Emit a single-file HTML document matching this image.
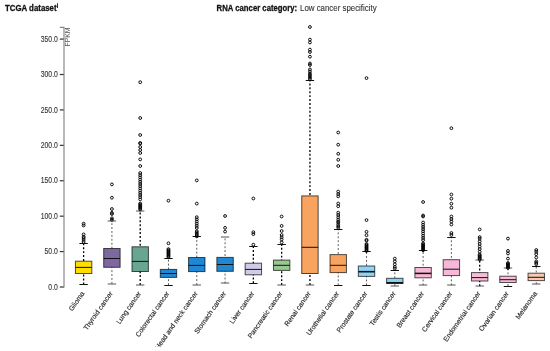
<!DOCTYPE html>
<html><head><meta charset="utf-8"><title>TCGA dataset</title>
<style>
html,body{margin:0;padding:0;background:#fff;width:550px;height:351px;overflow:hidden}
svg{position:absolute;left:0;top:0;display:block;filter:blur(0.25px)}
</style></head>
<body>
<svg width="550" height="351" viewBox="0 0 550 351">
<style>
.w{stroke:#000;stroke-width:1.3;stroke-dasharray:1.956,1.956;fill:none}
.wl{stroke:#333;stroke-width:0.8;stroke-dasharray:1.956,1.956;fill:none}
.c{stroke:#111;stroke-width:1.0}
.cl{stroke:#555;stroke-width:1.0}
.b{stroke:#000;stroke-opacity:0.68;stroke-width:1.0}
.m{stroke:#111}
.o{fill:none;stroke:#000;stroke-width:0.95}
.t{stroke:#333;stroke-width:1.2}
.dom{fill:none;stroke:#858585;stroke-width:1.15}
.tl{font:6.8px "Liberation Sans",Arial,sans-serif;fill:#333;stroke:#333;stroke-width:0.1;text-anchor:end}
.yl{font:6.8px "Liberation Sans",Arial,sans-serif;fill:#555;text-anchor:end;dominant-baseline:hanging}
.hb{font:bold 7.8px "Liberation Sans",Arial,sans-serif;fill:#111;stroke:#111;stroke-width:0.25}
.hr{font:7.8px "Liberation Sans",Arial,sans-serif;fill:#333;stroke:#333;stroke-width:0.1}
.hs{font:bold 6.5px "Liberation Sans",Arial,sans-serif;fill:#000}
.xl{font:6.9px "Liberation Sans",Arial,sans-serif;fill:#2a2a2a;stroke:#2a2a2a;stroke-width:0.15;text-anchor:end}
</style>
<text class="hb" transform="translate(5.0,10.9) scale(1,1.12)" textLength="51.6" lengthAdjust="spacingAndGlyphs">TCGA dataset</text><text class="hs" x="56.6" y="8.2">i</text><text class="hb" transform="translate(216.6,10.9) scale(1,1.12)" textLength="80.6" lengthAdjust="spacingAndGlyphs">RNA cancer category:</text><text class="hr" transform="translate(300.0,10.9) scale(1,1.12)" textLength="76.6" lengthAdjust="spacingAndGlyphs">Low cancer specificity</text>
<line class="t" x1="59.80" y1="287.00" x2="64.00" y2="287.00"/><text class="tl" transform="translate(57.80,289.60) scale(1,1.2)">0.0</text><line class="t" x1="59.80" y1="251.59" x2="64.00" y2="251.59"/><text class="tl" transform="translate(57.80,254.19) scale(1,1.2)">50.0</text><line class="t" x1="59.80" y1="216.17" x2="64.00" y2="216.17"/><text class="tl" transform="translate(57.80,218.77) scale(1,1.2)">100.0</text><line class="t" x1="59.80" y1="180.75" x2="64.00" y2="180.75"/><text class="tl" transform="translate(57.80,183.35) scale(1,1.2)">150.0</text><line class="t" x1="59.80" y1="145.34" x2="64.00" y2="145.34"/><text class="tl" transform="translate(57.80,147.94) scale(1,1.2)">200.0</text><line class="t" x1="59.80" y1="109.92" x2="64.00" y2="109.92"/><text class="tl" transform="translate(57.80,112.52) scale(1,1.2)">250.0</text><line class="t" x1="59.80" y1="74.51" x2="64.00" y2="74.51"/><text class="tl" transform="translate(57.80,77.11) scale(1,1.2)">300.0</text><line class="t" x1="59.80" y1="39.09" x2="64.00" y2="39.09"/><text class="tl" transform="translate(57.80,41.70) scale(1,1.2)">350.0</text><path class="dom" d="M59.80,27.3H64.00V287.0H59.80"/><text class="yl" transform="translate(65.00,27.4) rotate(-90)" textLength="19.2" lengthAdjust="spacingAndGlyphs">FPKM</text>
<g><line class="w" x1="83.62" y1="284.40" x2="83.62" y2="243.40"/><line class="c" x1="79.42" y1="243.50" x2="87.82" y2="243.50"/><line class="c" x1="79.42" y1="284.50" x2="87.82" y2="284.50"/><rect class="b" x="75.42" y="261.20" width="16.40" height="12.30" fill="#FFDD00"/><line class="m" x1="75.42" y1="267.40" x2="91.82" y2="267.40" stroke-width="1.0"/><circle class="o" cx="83.62" cy="223.70" r="1.4"/><circle class="o" cx="83.62" cy="225.50" r="1.4"/><circle class="o" cx="83.62" cy="234.40" r="1.4"/><circle class="o" cx="83.62" cy="236.70" r="1.4"/><circle class="o" cx="83.62" cy="238.00" r="1.4"/><circle class="o" cx="83.62" cy="239.90" r="1.4"/><circle class="o" cx="83.62" cy="241.90" r="1.4"/></g><g><line class="wl" x1="111.91" y1="283.80" x2="111.91" y2="220.90"/><line class="cl" x1="107.71" y1="221.00" x2="116.11" y2="221.00"/><line class="cl" x1="107.71" y1="284.00" x2="116.11" y2="284.00"/><rect class="b" x="103.71" y="248.50" width="16.40" height="18.80" fill="#7D69A0"/><line class="m" x1="103.71" y1="258.50" x2="120.11" y2="258.50" stroke-width="1.0"/><circle class="o" cx="111.91" cy="184.40" r="1.4"/><circle class="o" cx="111.91" cy="197.70" r="1.4"/><circle class="o" cx="111.91" cy="209.00" r="1.4"/><circle class="o" cx="111.91" cy="212.80" r="1.4"/><circle class="o" cx="111.91" cy="214.00" r="1.4"/><circle class="o" cx="111.91" cy="218.30" r="1.4"/><circle class="o" cx="111.91" cy="219.80" r="1.4"/></g><g><line class="w" x1="140.20" y1="284.90" x2="140.20" y2="210.70"/><line class="cl" x1="136.00" y1="211.00" x2="144.40" y2="211.00"/><line class="cl" x1="136.00" y1="285.00" x2="144.40" y2="285.00"/><rect class="b" x="132.00" y="246.80" width="16.40" height="24.70" fill="#68A692"/><line class="m" x1="132.00" y1="261.40" x2="148.40" y2="261.40" stroke-width="1.0"/><circle class="o" cx="140.20" cy="82.20" r="1.4"/><circle class="o" cx="140.20" cy="118.00" r="1.4"/><circle class="o" cx="140.20" cy="135.00" r="1.4"/><circle class="o" cx="140.20" cy="143.00" r="1.4"/><circle class="o" cx="140.20" cy="143.60" r="1.4"/><circle class="o" cx="140.20" cy="147.00" r="1.4"/><circle class="o" cx="140.20" cy="150.00" r="1.4"/><circle class="o" cx="140.20" cy="153.00" r="1.4"/><circle class="o" cx="140.20" cy="159.40" r="1.4"/><circle class="o" cx="140.20" cy="166.00" r="1.4"/><circle class="o" cx="140.20" cy="173.00" r="1.4"/><circle class="o" cx="140.20" cy="175.20" r="1.4"/><circle class="o" cx="140.20" cy="177.40" r="1.4"/><circle class="o" cx="140.20" cy="179.60" r="1.4"/><circle class="o" cx="140.20" cy="181.80" r="1.4"/><circle class="o" cx="140.20" cy="184.00" r="1.4"/><circle class="o" cx="140.20" cy="186.20" r="1.4"/><circle class="o" cx="140.20" cy="188.40" r="1.4"/><circle class="o" cx="140.20" cy="190.60" r="1.4"/><circle class="o" cx="140.20" cy="192.80" r="1.4"/><circle class="o" cx="140.20" cy="195.00" r="1.4"/><circle class="o" cx="140.20" cy="197.20" r="1.4"/><circle class="o" cx="140.20" cy="199.40" r="1.4"/><circle class="o" cx="140.20" cy="203.50" r="1.4"/><circle class="o" cx="140.20" cy="204.50" r="1.4"/><circle class="o" cx="140.20" cy="205.50" r="1.4"/><circle class="o" cx="140.20" cy="206.50" r="1.4"/><circle class="o" cx="140.20" cy="207.50" r="1.4"/><circle class="o" cx="140.20" cy="208.50" r="1.4"/><circle class="o" cx="140.20" cy="209.50" r="1.4"/></g><g><line class="wl" x1="168.49" y1="285.10" x2="168.49" y2="258.10"/><line class="c" x1="164.29" y1="258.50" x2="172.69" y2="258.50"/><line class="c" x1="164.29" y1="285.50" x2="172.69" y2="285.50"/><rect class="b" x="160.29" y="269.40" width="16.40" height="8.00" fill="#1E87D2"/><line class="m" x1="160.29" y1="273.50" x2="176.69" y2="273.50" stroke-width="1.0"/><circle class="o" cx="168.49" cy="200.70" r="1.4"/><circle class="o" cx="168.49" cy="243.30" r="1.4"/><circle class="o" cx="168.49" cy="249.10" r="1.4"/><circle class="o" cx="168.49" cy="250.10" r="1.4"/><circle class="o" cx="168.49" cy="251.10" r="1.4"/><circle class="o" cx="168.49" cy="252.10" r="1.4"/><circle class="o" cx="168.49" cy="253.10" r="1.4"/><circle class="o" cx="168.49" cy="254.10" r="1.4"/><circle class="o" cx="168.49" cy="255.10" r="1.4"/><circle class="o" cx="168.49" cy="256.10" r="1.4"/><circle class="o" cx="168.49" cy="257.10" r="1.4"/></g><g><line class="wl" x1="196.78" y1="284.90" x2="196.78" y2="236.50"/><line class="c" x1="192.58" y1="236.50" x2="200.98" y2="236.50"/><line class="cl" x1="192.58" y1="285.00" x2="200.98" y2="285.00"/><rect class="b" x="188.58" y="257.50" width="16.40" height="14.10" fill="#1E88D4"/><line class="m" x1="188.58" y1="265.40" x2="204.98" y2="265.40" stroke-width="1.0"/><circle class="o" cx="196.78" cy="180.40" r="1.4"/><circle class="o" cx="196.78" cy="203.60" r="1.4"/><circle class="o" cx="196.78" cy="217.20" r="1.4"/><circle class="o" cx="196.78" cy="219.35" r="1.4"/><circle class="o" cx="196.78" cy="221.50" r="1.4"/><circle class="o" cx="196.78" cy="223.65" r="1.4"/><circle class="o" cx="196.78" cy="225.80" r="1.4"/><circle class="o" cx="196.78" cy="227.95" r="1.4"/><circle class="o" cx="196.78" cy="231.20" r="1.4"/><circle class="o" cx="196.78" cy="232.50" r="1.4"/><circle class="o" cx="196.78" cy="233.80" r="1.4"/><circle class="o" cx="196.78" cy="235.10" r="1.4"/><circle class="o" cx="196.78" cy="236.40" r="1.4"/></g><g><line class="wl" x1="225.07" y1="283.40" x2="225.07" y2="237.00"/><line class="cl" x1="220.87" y1="237.00" x2="229.27" y2="237.00"/><line class="cl" x1="220.87" y1="283.00" x2="229.27" y2="283.00"/><rect class="b" x="216.87" y="257.40" width="16.40" height="13.90" fill="#1E88D4"/><line class="m" x1="216.87" y1="264.50" x2="233.27" y2="264.50" stroke-width="1.0"/><circle class="o" cx="225.07" cy="216.00" r="1.4"/><circle class="o" cx="225.07" cy="227.80" r="1.4"/><circle class="o" cx="225.07" cy="231.60" r="1.4"/></g><g><line class="w" x1="253.36" y1="283.30" x2="253.36" y2="246.00"/><line class="c" x1="249.16" y1="246.50" x2="257.56" y2="246.50"/><line class="c" x1="249.16" y1="283.50" x2="257.56" y2="283.50"/><rect class="b" x="245.16" y="263.20" width="16.40" height="11.60" fill="#CFCBE8"/><line class="m" x1="245.16" y1="269.40" x2="261.56" y2="269.40" stroke-width="1.0"/><circle class="o" cx="253.36" cy="198.50" r="1.4"/><circle class="o" cx="253.36" cy="232.20" r="1.4"/><circle class="o" cx="253.36" cy="234.10" r="1.4"/><circle class="o" cx="253.36" cy="244.70" r="1.4"/></g><g><line class="w" x1="281.65" y1="285.00" x2="281.65" y2="244.10"/><line class="c" x1="277.45" y1="244.50" x2="285.85" y2="244.50"/><line class="cl" x1="277.45" y1="285.00" x2="285.85" y2="285.00"/><rect class="b" x="273.45" y="260.10" width="16.40" height="10.30" fill="#98C890"/><line class="m" x1="273.45" y1="265.30" x2="289.85" y2="265.30" stroke-width="1.0"/><circle class="o" cx="281.65" cy="216.50" r="1.4"/><circle class="o" cx="281.65" cy="225.90" r="1.4"/><circle class="o" cx="281.65" cy="231.00" r="1.4"/><circle class="o" cx="281.65" cy="235.00" r="1.4"/><circle class="o" cx="281.65" cy="237.30" r="1.4"/><circle class="o" cx="281.65" cy="239.40" r="1.4"/><circle class="o" cx="281.65" cy="242.40" r="1.4"/></g><g><line class="w" x1="309.94" y1="284.90" x2="309.94" y2="80.60"/><line class="c" x1="305.74" y1="80.50" x2="314.14" y2="80.50"/><line class="cl" x1="305.74" y1="285.00" x2="314.14" y2="285.00"/><rect class="b" x="301.74" y="195.90" width="16.40" height="77.60" fill="#F8A460"/><line class="m" x1="301.74" y1="247.30" x2="318.14" y2="247.30" stroke-width="1.0"/><circle class="o" cx="309.94" cy="27.00" r="1.4"/><circle class="o" cx="309.94" cy="39.60" r="1.4"/><circle class="o" cx="309.94" cy="42.50" r="1.4"/><circle class="o" cx="309.94" cy="49.60" r="1.4"/><circle class="o" cx="309.94" cy="52.00" r="1.4"/><circle class="o" cx="309.94" cy="56.70" r="1.4"/><circle class="o" cx="309.94" cy="63.50" r="1.4"/><circle class="o" cx="309.94" cy="65.00" r="1.4"/><circle class="o" cx="309.94" cy="69.40" r="1.4"/><circle class="o" cx="309.94" cy="71.40" r="1.4"/><circle class="o" cx="309.94" cy="73.40" r="1.4"/><circle class="o" cx="309.94" cy="74.85" r="1.4"/><circle class="o" cx="309.94" cy="76.30" r="1.4"/><circle class="o" cx="309.94" cy="77.75" r="1.4"/><circle class="o" cx="309.94" cy="79.20" r="1.4"/></g><g><line class="wl" x1="338.23" y1="285.20" x2="338.23" y2="229.40"/><line class="c" x1="334.03" y1="229.50" x2="342.43" y2="229.50"/><line class="c" x1="334.03" y1="285.50" x2="342.43" y2="285.50"/><rect class="b" x="330.03" y="254.60" width="16.40" height="18.00" fill="#F8A460"/><line class="m" x1="330.03" y1="265.30" x2="346.43" y2="265.30" stroke-width="1.0"/><circle class="o" cx="338.23" cy="132.50" r="1.4"/><circle class="o" cx="338.23" cy="144.70" r="1.4"/><circle class="o" cx="338.23" cy="153.80" r="1.4"/><circle class="o" cx="338.23" cy="159.80" r="1.4"/><circle class="o" cx="338.23" cy="166.00" r="1.4"/><circle class="o" cx="338.23" cy="191.60" r="1.4"/><circle class="o" cx="338.23" cy="194.10" r="1.4"/><circle class="o" cx="338.23" cy="196.30" r="1.4"/><circle class="o" cx="338.23" cy="203.50" r="1.4"/><circle class="o" cx="338.23" cy="206.20" r="1.4"/><circle class="o" cx="338.23" cy="212.70" r="1.4"/><circle class="o" cx="338.23" cy="215.00" r="1.4"/><circle class="o" cx="338.23" cy="217.30" r="1.4"/><circle class="o" cx="338.23" cy="219.60" r="1.4"/><circle class="o" cx="338.23" cy="221.50" r="1.4"/><circle class="o" cx="338.23" cy="222.70" r="1.4"/><circle class="o" cx="338.23" cy="224.60" r="1.4"/><circle class="o" cx="338.23" cy="226.20" r="1.4"/><circle class="o" cx="338.23" cy="227.70" r="1.4"/></g><g><line class="wl" x1="366.52" y1="285.30" x2="366.52" y2="251.10"/><line class="c" x1="362.32" y1="251.50" x2="370.72" y2="251.50"/><line class="c" x1="362.32" y1="285.50" x2="370.72" y2="285.50"/><rect class="b" x="358.32" y="266.00" width="16.40" height="10.40" fill="#8FD4F4"/><line class="m" x1="358.32" y1="271.70" x2="374.72" y2="271.70" stroke-width="1.6"/><circle class="o" cx="366.52" cy="78.10" r="1.4"/><circle class="o" cx="366.52" cy="220.10" r="1.4"/><circle class="o" cx="366.52" cy="231.80" r="1.4"/><circle class="o" cx="366.52" cy="235.20" r="1.4"/><circle class="o" cx="366.52" cy="239.80" r="1.4"/><circle class="o" cx="366.52" cy="240.60" r="1.4"/><circle class="o" cx="366.52" cy="244.00" r="1.4"/><circle class="o" cx="366.52" cy="245.00" r="1.4"/><circle class="o" cx="366.52" cy="246.00" r="1.4"/><circle class="o" cx="366.52" cy="247.00" r="1.4"/><circle class="o" cx="366.52" cy="248.00" r="1.4"/><circle class="o" cx="366.52" cy="249.00" r="1.4"/><circle class="o" cx="366.52" cy="250.00" r="1.4"/><circle class="o" cx="366.52" cy="251.00" r="1.4"/></g><g><line class="wl" x1="394.81" y1="286.10" x2="394.81" y2="270.40"/><line class="c" x1="390.61" y1="270.50" x2="399.01" y2="270.50"/><line class="cl" x1="390.61" y1="286.00" x2="399.01" y2="286.00"/><rect class="b" x="386.61" y="278.30" width="16.40" height="5.20" fill="#8AD0F0"/><line class="m" x1="386.61" y1="282.80" x2="403.01" y2="282.80" stroke-width="1.6"/><circle class="o" cx="394.81" cy="258.60" r="1.4"/><circle class="o" cx="394.81" cy="261.40" r="1.4"/><circle class="o" cx="394.81" cy="264.30" r="1.4"/><circle class="o" cx="394.81" cy="266.90" r="1.4"/><circle class="o" cx="394.81" cy="268.60" r="1.4"/></g><g><line class="wl" x1="423.10" y1="285.30" x2="423.10" y2="250.70"/><line class="c" x1="418.90" y1="250.50" x2="427.30" y2="250.50"/><line class="cl" x1="418.90" y1="285.00" x2="427.30" y2="285.00"/><rect class="b" x="414.90" y="267.50" width="16.40" height="10.30" fill="#F8B8D4"/><line class="m" x1="414.90" y1="273.40" x2="431.30" y2="273.40" stroke-width="1.5"/><circle class="o" cx="423.10" cy="202.00" r="1.4"/><circle class="o" cx="423.10" cy="215.50" r="1.4"/><circle class="o" cx="423.10" cy="216.50" r="1.4"/><circle class="o" cx="423.10" cy="222.50" r="1.4"/><circle class="o" cx="423.10" cy="224.70" r="1.4"/><circle class="o" cx="423.10" cy="226.90" r="1.4"/><circle class="o" cx="423.10" cy="229.10" r="1.4"/><circle class="o" cx="423.10" cy="231.30" r="1.4"/><circle class="o" cx="423.10" cy="233.50" r="1.4"/><circle class="o" cx="423.10" cy="235.70" r="1.4"/><circle class="o" cx="423.10" cy="237.90" r="1.4"/><circle class="o" cx="423.10" cy="240.10" r="1.4"/><circle class="o" cx="423.10" cy="243.30" r="1.4"/><circle class="o" cx="423.10" cy="244.30" r="1.4"/><circle class="o" cx="423.10" cy="245.30" r="1.4"/><circle class="o" cx="423.10" cy="246.30" r="1.4"/><circle class="o" cx="423.10" cy="247.30" r="1.4"/><circle class="o" cx="423.10" cy="248.30" r="1.4"/><circle class="o" cx="423.10" cy="249.30" r="1.4"/><circle class="o" cx="423.10" cy="250.30" r="1.4"/></g><g><line class="wl" x1="451.39" y1="285.30" x2="451.39" y2="237.10"/><line class="c" x1="447.19" y1="237.50" x2="455.59" y2="237.50"/><line class="cl" x1="447.19" y1="285.00" x2="455.59" y2="285.00"/><rect class="b" x="443.19" y="259.70" width="16.40" height="15.90" fill="#F6B8D8"/><line class="m" x1="443.19" y1="269.20" x2="459.59" y2="269.20" stroke-width="1.0"/><circle class="o" cx="451.39" cy="128.20" r="1.4"/><circle class="o" cx="451.39" cy="194.50" r="1.4"/><circle class="o" cx="451.39" cy="198.70" r="1.4"/><circle class="o" cx="451.39" cy="203.70" r="1.4"/><circle class="o" cx="451.39" cy="207.70" r="1.4"/><circle class="o" cx="451.39" cy="216.50" r="1.4"/><circle class="o" cx="451.39" cy="219.00" r="1.4"/><circle class="o" cx="451.39" cy="221.50" r="1.4"/><circle class="o" cx="451.39" cy="224.50" r="1.4"/><circle class="o" cx="451.39" cy="233.00" r="1.4"/><circle class="o" cx="451.39" cy="235.00" r="1.4"/></g><g><line class="w" x1="479.68" y1="286.20" x2="479.68" y2="260.00"/><line class="cl" x1="475.48" y1="260.00" x2="483.88" y2="260.00"/><line class="cl" x1="475.48" y1="286.00" x2="483.88" y2="286.00"/><rect class="b" x="471.48" y="272.60" width="16.40" height="8.40" fill="#F8BCD8"/><line class="m" x1="471.48" y1="277.60" x2="487.88" y2="277.60" stroke-width="1.0"/><circle class="o" cx="479.68" cy="229.40" r="1.4"/><circle class="o" cx="479.68" cy="237.10" r="1.4"/><circle class="o" cx="479.68" cy="238.70" r="1.4"/><circle class="o" cx="479.68" cy="241.30" r="1.4"/><circle class="o" cx="479.68" cy="243.90" r="1.4"/><circle class="o" cx="479.68" cy="246.50" r="1.4"/><circle class="o" cx="479.68" cy="249.10" r="1.4"/><circle class="o" cx="479.68" cy="251.70" r="1.4"/><circle class="o" cx="479.68" cy="254.50" r="1.4"/><circle class="o" cx="479.68" cy="255.50" r="1.4"/><circle class="o" cx="479.68" cy="256.50" r="1.4"/><circle class="o" cx="479.68" cy="257.50" r="1.4"/><circle class="o" cx="479.68" cy="258.50" r="1.4"/><circle class="o" cx="479.68" cy="259.50" r="1.4"/></g><g><line class="wl" x1="507.97" y1="286.00" x2="507.97" y2="267.90"/><line class="cl" x1="503.77" y1="268.00" x2="512.17" y2="268.00"/><line class="c" x1="503.77" y1="286.50" x2="512.17" y2="286.50"/><rect class="b" x="499.77" y="276.20" width="16.40" height="6.30" fill="#F8BCD8"/><line class="m" x1="499.77" y1="279.70" x2="516.17" y2="279.70" stroke-width="1.0"/><circle class="o" cx="507.97" cy="238.60" r="1.4"/><circle class="o" cx="507.97" cy="250.90" r="1.4"/><circle class="o" cx="507.97" cy="253.50" r="1.4"/><circle class="o" cx="507.97" cy="258.60" r="1.4"/><circle class="o" cx="507.97" cy="263.00" r="1.4"/><circle class="o" cx="507.97" cy="264.00" r="1.4"/><circle class="o" cx="507.97" cy="265.00" r="1.4"/><circle class="o" cx="507.97" cy="266.00" r="1.4"/><circle class="o" cx="507.97" cy="267.00" r="1.4"/><circle class="o" cx="507.97" cy="268.00" r="1.4"/></g><g><line class="wl" x1="536.26" y1="284.20" x2="536.26" y2="266.40"/><line class="c" x1="532.06" y1="266.50" x2="540.46" y2="266.50"/><line class="cl" x1="532.06" y1="284.00" x2="540.46" y2="284.00"/><rect class="b" x="528.06" y="273.20" width="16.40" height="7.40" fill="#F8C8B0"/><line class="m" x1="528.06" y1="277.30" x2="544.46" y2="277.30" stroke-width="1.0"/><circle class="o" cx="536.26" cy="250.00" r="1.4"/><circle class="o" cx="536.26" cy="251.70" r="1.4"/><circle class="o" cx="536.26" cy="254.20" r="1.4"/><circle class="o" cx="536.26" cy="257.50" r="1.4"/><circle class="o" cx="536.26" cy="261.40" r="1.4"/><circle class="o" cx="536.26" cy="262.80" r="1.4"/><circle class="o" cx="536.26" cy="264.20" r="1.4"/></g>
<defs><clipPath id="cl"><rect x="0" y="0" width="550" height="346.5"/></clipPath></defs>
<g clip-path="url(#cl)"><text class="xl" transform="translate(84.82,293.5) rotate(-55)">Glioma</text><text class="xl" transform="translate(113.11,293.5) rotate(-55)">Thyroid cancer</text><text class="xl" transform="translate(141.40,293.5) rotate(-55)">Lung cancer</text><text class="xl" transform="translate(169.69,293.5) rotate(-55)">Colorectal cancer</text><text class="xl" transform="translate(197.98,293.5) rotate(-55)">Head and neck cancer</text><text class="xl" transform="translate(226.27,293.5) rotate(-55)">Stomach cancer</text><text class="xl" transform="translate(254.56,293.5) rotate(-55)">Liver cancer</text><text class="xl" transform="translate(282.85,293.5) rotate(-55)">Pancreatic cancer</text><text class="xl" transform="translate(311.14,293.5) rotate(-55)">Renal cancer</text><text class="xl" transform="translate(339.43,293.5) rotate(-55)">Urothelial cancer</text><text class="xl" transform="translate(367.72,293.5) rotate(-55)">Prostate cancer</text><text class="xl" transform="translate(396.01,293.5) rotate(-55)">Testis cancer</text><text class="xl" transform="translate(424.30,293.5) rotate(-55)">Breast cancer</text><text class="xl" transform="translate(452.59,293.5) rotate(-55)">Cervical cancer</text><text class="xl" transform="translate(480.88,293.5) rotate(-55)">Endometrial cancer</text><text class="xl" transform="translate(509.17,293.5) rotate(-55)">Ovarian cancer</text><text class="xl" transform="translate(537.46,293.5) rotate(-55)">Melanoma</text></g>
</svg>
</body></html>
